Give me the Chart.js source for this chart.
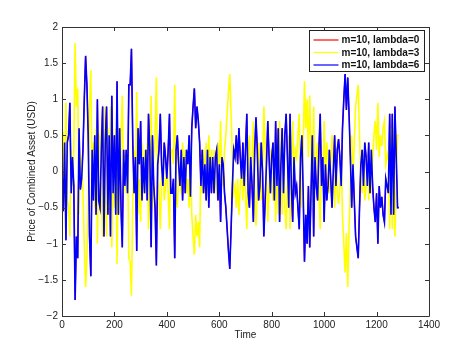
<!DOCTYPE html>
<html>
<head>
<meta charset="utf-8">
<script src="https://cdn.jsdelivr.net/npm/chart.js@4.4.1/dist/chart.umd.min.js"></script>
<style>
html,body{margin:0;padding:0;background:#fff;}
#wrap{position:relative;width:474px;height:355px;}
</style>
</head>
<body>
<div id="wrap"><canvas id="c" width="474" height="355"></canvas></div>
<script>
const timeStart = 0;
const timeStep = 5;
const seriesLabels = ["m=10, lambda=0", "m=10, lambda=3", "m=10, lambda=6"];
const seriesColors = ["#ff0000", "#ffff00", "#0000ff"];
const xTickValues = [0, 200, 400, 600, 800, 1000, 1200, 1400];
const yTickValues = [-2, -1.5, -1, -0.5, 0, 0.5, 1, 1.5, 2];

const lambda6 = [
 0.0,-0.55,0.4,-0.95,0.4,0.5,0.95,-0.3,0.2,-0.2,
 -1.78,-0.9,-1.2,0.6,-0.25,-0.1,0.3,1.0,1.6,1.2,
 0.5,-0.9,-1.45,0.3,-0.4,0.5,-0.6,1.0,-0.4,-0.5,
 0.3,0.9,-0.9,0.4,0.9,-0.6,0.5,-0.9,1.05,-0.3,
 0.5,-0.6,1.25,-0.6,0.6,-0.5,-1.05,0.3,-0.2,0.3,
 -0.3,1.2,1.2,1.7,0.4,-0.3,0.2,-1.1,0.6,0.1,
 0.7,-0.4,0.2,-0.3,0.3,-0.4,0.8,0.3,-1.05,0.5,
 -0.2,-0.5,-1.3,0.1,0.3,0.8,0.1,-0.2,0.4,0.2,
 -0.1,0.3,0.8,-0.3,-0.3,-0.1,-1.2,0.3,0.5,0.1,
 -0.2,0.3,-0.4,0.2,-0.3,0.3,0.1,0.5,-0.35,0.6,
 0.9,1.15,0.6,0.9,0.7,0.4,-0.2,0.3,-0.3,0.1,
 -0.4,0.3,-0.5,0.2,-0.3,0.2,-0.3,0.2,0.3,-0.4,
 0.1,-0.7,0.2,0.1,-0.3,-0.5,-0.8,-1.1,-1.35,-0.8,
 -0.2,0.3,0.2,0.5,0.1,0.6,0.2,-0.1,0.4,-0.2,
 0.3,0.8,-0.3,-0.5,0.2,-0.2,-0.7,0.3,0.75,0.3,
 -0.4,-0.2,0.4,0.0,-0.9,-0.4,0.1,0.7,0.2,-0.3,
 0.2,0.4,-0.4,0.7,-0.2,0.6,-0.7,0.1,0.6,-0.3,
 0.5,0.8,0.2,-0.5,0.8,-0.2,-0.7,0.2,-0.3,-0.2,
 -0.5,-0.8,0.2,0.5,-0.3,-1.25,-0.6,-1.0,-0.2,-1.05,
 -0.3,0.5,-0.9,0.2,-0.2,-0.4,0.3,0.8,-0.2,0.2,
 -0.7,0.1,-0.4,-0.2,0.3,-0.1,-0.5,0.0,0.5,-0.2,
 0.3,0.45,0.2,-0.2,0.6,1.0,1.35,0.85,1.3,0.8,
 0.2,-0.5,0.1,-0.4,-0.9,-1.05,-1.2,-0.5,0.1,0.3,
 -0.2,0.4,0.2,-0.2,0.4,-0.3,0.3,-0.2,-0.5,-0.7,
 -0.3,-1.0,-0.2,-0.5,-0.35,-0.6,-0.7,-0.1,-0.2,-0.3,
 0.8,-0.6,0.8,-0.6,0.9,0.2,-0.5,-0.5
];

const lambda3 = [
 0.0,0.55,-0.4,0.95,-0.4,-0.5,-0.9,0.3,-0.2,0.3,
 1.78,0.9,1.15,-0.6,0.25,0.1,-0.3,-1.0,-1.6,-1.2,
 -0.5,0.9,1.4,-0.3,0.4,-0.5,0.6,-1.0,0.4,0.5,
 -0.3,-0.9,0.9,-0.4,-0.9,0.6,-0.5,0.9,-1.05,0.3,
 -0.5,0.6,-1.28,0.6,-0.6,0.5,1.05,-0.3,0.2,-0.3,
 0.3,-1.2,-1.25,-1.72,-0.4,0.3,-0.2,1.1,-0.6,-0.1,
 -0.7,0.4,-0.2,0.3,-0.3,0.4,-0.8,-0.3,1.05,-0.5,
 0.2,0.5,1.3,-0.1,-0.3,-0.8,-0.1,0.2,-0.4,-0.2,
 0.1,-0.3,-0.8,0.3,0.3,0.1,1.2,-0.3,-0.5,-0.1,
 0.2,-0.3,0.4,-0.2,0.3,-0.3,-0.1,-0.5,0.35,-0.6,
 -0.9,-1.15,-0.6,-0.9,-0.7,-1.05,0.2,-0.3,0.3,-0.1,
 0.4,-0.3,0.5,-0.2,0.3,-0.2,0.3,-0.2,-0.3,0.4,
 -0.1,0.7,-0.2,-0.1,0.3,0.5,0.8,1.1,1.35,0.8,
 0.2,-0.3,-0.2,-0.5,-0.1,-0.6,-0.2,0.1,-0.4,0.2,
 -0.3,-0.8,0.3,0.5,-0.2,0.2,0.7,-0.3,-0.75,-0.3,
 0.4,0.2,-0.4,0.0,0.9,0.4,-0.1,-0.7,-0.2,0.3,
 -0.2,-0.4,0.4,-0.7,0.2,-0.6,0.7,-0.1,-0.6,0.3,
 -0.5,-0.8,-0.2,0.5,-0.8,0.2,0.7,-0.2,0.3,0.2,
 0.5,0.8,-0.2,-0.5,0.3,1.25,0.6,1.0,0.2,1.05,
 0.3,-0.5,0.9,-0.2,0.2,0.4,-0.3,-0.8,0.2,-0.2,
 0.7,-0.1,0.4,0.2,-0.3,0.1,0.5,0.0,-0.5,0.2,
 -0.3,-0.45,-0.2,0.2,-0.6,-1.0,-1.4,-0.85,-1.6,-0.8,
 -0.2,0.5,-0.1,0.4,0.9,1.05,1.2,0.5,-0.1,-0.3,
 0.2,-0.4,-0.2,0.2,-0.4,0.3,-0.3,0.2,0.5,0.7,
 0.3,0.95,0.2,0.5,0.35,0.6,0.7,0.1,0.2,0.3,
 -0.8,0.6,-0.8,0.6,-0.9,-0.2,0.5,0.5
];

// lambda=0 curve lies underneath the others in the picture
const lambda0 = lambda6;

const seriesValues = [lambda0, lambda3, lambda6];

function toPoints(values) {
  return values.map((v, i) => ({ x: timeStart + i * timeStep, y: v }));
}

const fmt = v => (v < 0 ? "\u2212" + String(-v) : String(v));
const FONT = "'Liberation Sans', Arial, sans-serif";

// ---- plugin: MATLAB-like frame, inward ticks, legend box ----
const matlabFrame = {
  id: "matlabFrame",
  afterDatasetsDraw(chart) {
    const { ctx, chartArea: a, scales } = chart;
    ctx.save();
    ctx.strokeStyle = "#333";
    ctx.lineWidth = 1;
    ctx.beginPath();
    ctx.rect(Math.round(a.left) + 0.5, Math.round(a.top) + 0.5,
             Math.round(a.right - a.left), Math.round(a.bottom - a.top));
    ctx.stroke();
    const tl = 4;
    ctx.beginPath();
    xTickValues.forEach(v => {
      const px = Math.round(scales.x.getPixelForValue(v)) + 0.5;
      ctx.moveTo(px, a.bottom); ctx.lineTo(px, a.bottom - tl);
      ctx.moveTo(px, a.top); ctx.lineTo(px, a.top + tl);
    });
    yTickValues.forEach(v => {
      const py = Math.round(scales.y.getPixelForValue(v)) + 0.5;
      ctx.moveTo(a.left, py); ctx.lineTo(a.left + tl, py);
      ctx.moveTo(a.right, py); ctx.lineTo(a.right - tl, py);
    });
    ctx.stroke();

    // legend box
    const bx = 309.5, by = 30.5, bw = 115, bh = 41;
    ctx.fillStyle = "#fff";
    ctx.fillRect(bx, by, bw, bh);
    ctx.strokeStyle = "#222";
    ctx.strokeRect(bx, by, bw, bh);
    ctx.font = "bold 10px " + FONT;
    ctx.textBaseline = "middle";
    ctx.textAlign = "left";
    chart.data.datasets.forEach((ds, i) => {
      const y = by + 9.5 + i * 12.5;
      ctx.strokeStyle = ds.borderColor;
      ctx.lineWidth = 1.2;
      ctx.beginPath();
      ctx.moveTo(bx + 4, y); ctx.lineTo(bx + 29, y);
      ctx.stroke();
      ctx.fillStyle = "#111";
      ctx.fillText(ds.label, bx + 32, y + 0.5);
    });
    ctx.restore();
  }
};

new Chart(document.getElementById("c"), {
  type: "line",
  data: {
    datasets: seriesValues.map((vals, i) => ({
      label: seriesLabels[i],
      data: toPoints(vals),
      borderColor: seriesColors[i],
      backgroundColor: seriesColors[i],
      borderWidth: i === 0 ? 1.2 : 1.6,
      pointRadius: 0,
      tension: 0,
      fill: false,
      order: 3 - i
    }))
  },
  options: {
    responsive: false,
    animation: false,
    events: [],
    layout: { padding: { top: 27, right: 45, left: 26, bottom: 14 } },
    plugins: { legend: { display: false }, tooltip: { enabled: false } },
    scales: {
      x: {
        type: "linear",
        min: 0, max: 1400,
        afterFit(s) { s.height = 25; },
        afterBuildTicks(s) { s.ticks = xTickValues.map(v => ({ value: v })); },
        grid: { display: false, drawTicks: false },
        border: { display: false },
        ticks: {
          padding: 3,
          color: "#222",
          font: { family: FONT, size: 10 },
          maxRotation: 0,
          callback: v => fmt(v)
        },
        title: {
          display: true, text: "Time", color: "#222",
          font: { family: FONT, size: 10 },
          padding: { top: 0, bottom: 0 }
        }
      },
      y: {
        type: "linear",
        min: -2, max: 2,
        afterFit(s) { s.width = 36; },
        afterBuildTicks(s) { s.ticks = yTickValues.map(v => ({ value: v })); },
        grid: { display: false, drawTicks: false },
        border: { display: false },
        ticks: {
          padding: 4,
          color: "#222",
          font: { family: FONT, size: 10 },
          callback: v => fmt(v)
        },
        title: {
          display: true, text: "Price of Combined Asset (USD)", color: "#222",
          font: { family: FONT, size: 10 },
          padding: { top: 0, bottom: 0 }
        }
      }
    }
  },
  plugins: [matlabFrame]
});
</script>
</body>
</html>
